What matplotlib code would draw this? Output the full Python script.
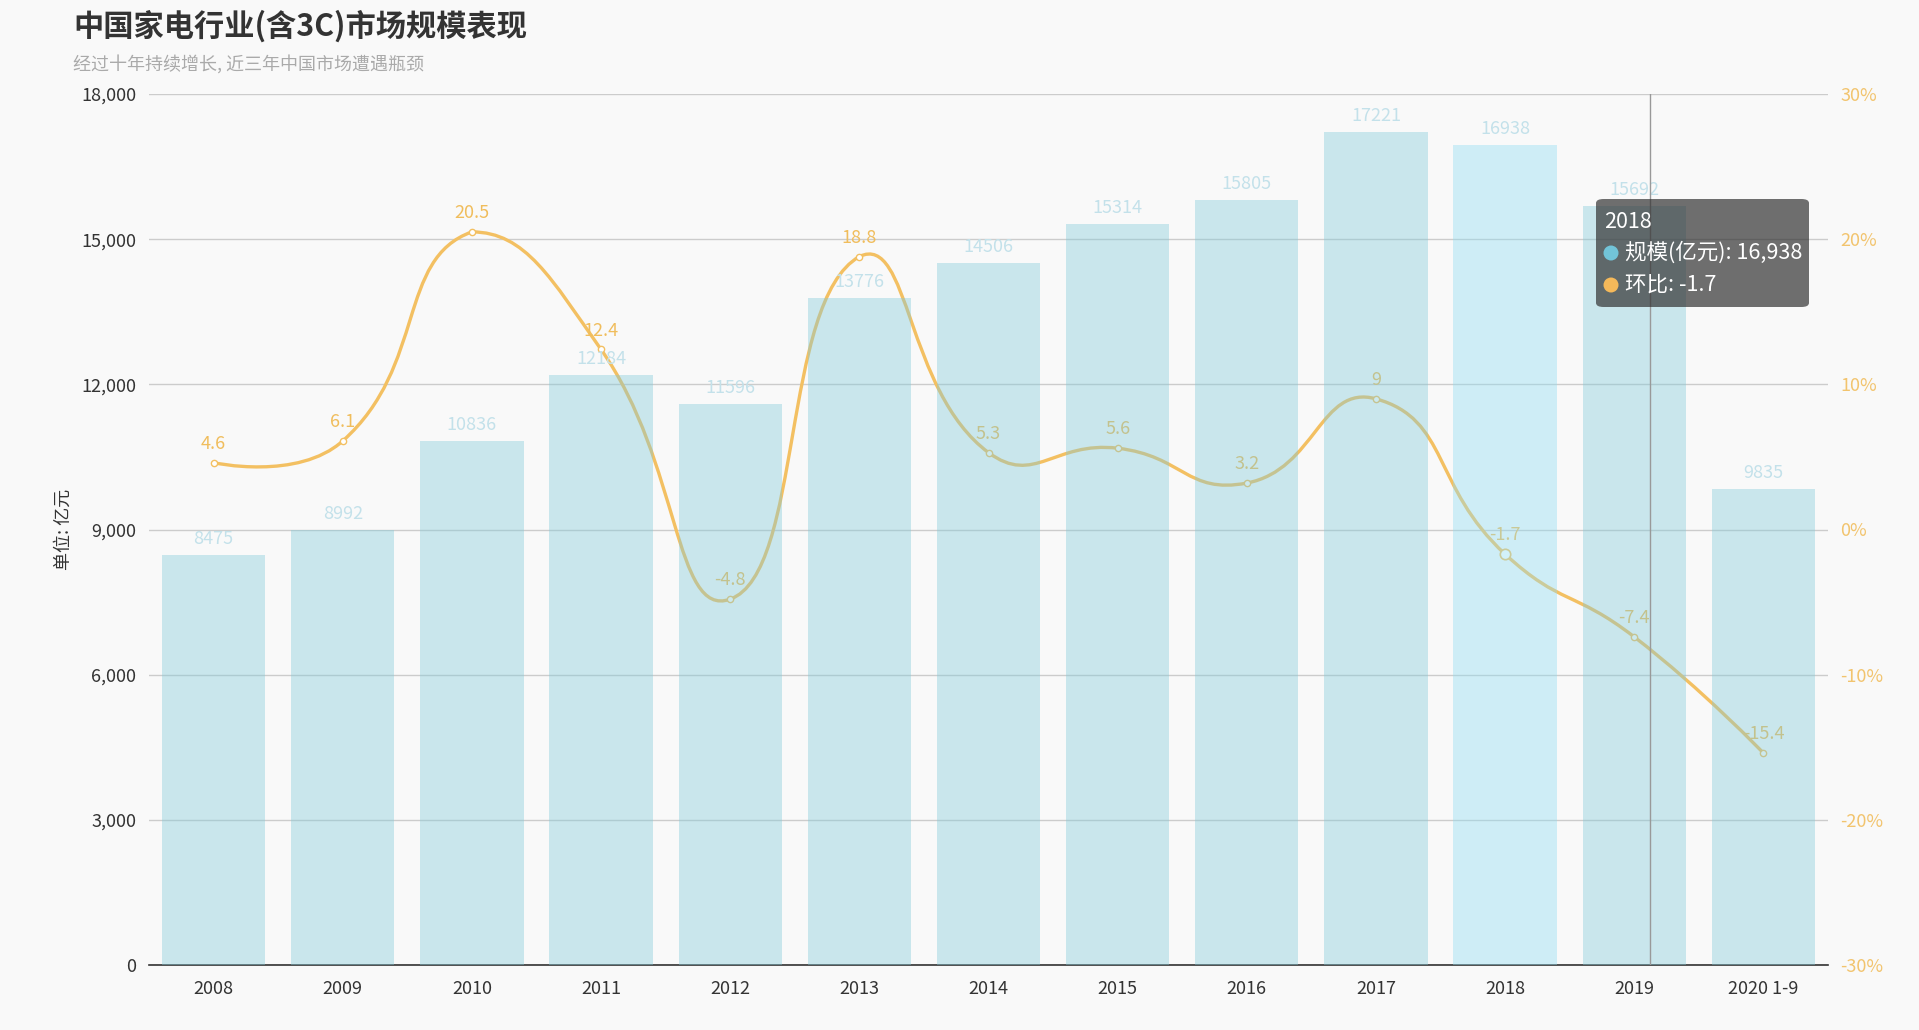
import numpy as np
import matplotlib
matplotlib.use('Agg')
import matplotlib.pyplot as plt
from matplotlib.path import Path
from matplotlib.patches import PathPatch, FancyBboxPatch, Ellipse
from matplotlib.ticker import FixedLocator, FuncFormatter

plt.rcParams['font.family'] = ['Noto Sans CJK SC', 'DejaVu Sans']

# 数据
years = ['2008', '2009', '2010', '2011', '2012', '2013', '2014',
         '2015', '2016', '2017', '2018', '2019', '2020 1-9']
scale = [8475, 8992, 10836, 12184, 11596, 13776, 14506,
         15314, 15805, 17221, 16938, 15692, 9835]
growth = [4.6, 6.1, 20.5, 12.4, -4.8, 18.8, 5.3,
          5.6, 3.2, 9, -1.7, -7.4, -15.4]
left_ticks = [0, 3000, 6000, 9000, 12000, 15000, 18000]
right_ticks = [-30, -20, -10, 0, 10, 20, 30]
hover = '2018'

W, H = 1919, 1030
BG = '#f9f9f9'
ORANGE = '#f3c062'


def fx(x, y):
    return x / W, 1 - y / H


fig = plt.figure(figsize=(W / 100, H / 100), dpi=100, facecolor=BG)
L, R, T, B = 149, 1828, 94, 965
rect = [L / W, 1 - B / H, (R - L) / W, (B - T) / H]

ax2 = fig.add_axes(rect)          # 折线(在下层)
ax = ax2.twinx()                  # 柱子(在上层)
ax.set_zorder(ax2.get_zorder() + 1)
ax.patch.set_visible(False)
ax2.set_facecolor(BG)

x = np.arange(len(years))
ax.set_xlim(-0.5, len(years) - 0.5)
ax2.set_xlim(-0.5, len(years) - 0.5)
ax.set_ylim(0, 18000)
ax2.set_ylim(-30, 30)

# 柱状图
hi = years.index(hover)
colors = ['#81cad9'] * len(years)
colors[hi] = '#8fdcf2'
bars = ax.bar(x, scale, width=0.8, color=colors, alpha=0.4, zorder=2)
for xi, v in zip(x, scale):
    ax.annotate(str(v), (xi, v), xytext=(0, 5), textcoords='offset points',
                ha='center', va='bottom', fontsize=13, color='#c3e1ea', zorder=3)

# 平滑折线 (echarts 风格贝塞尔曲线, 在像素尺度下计算控制点)
sx = (R - L) / len(years)
sy = (B - T) / 60.0
P = np.column_stack([x * sx, np.array(growth) * sy])
lo, hi_b = P.min(axis=0), P.max(axis=0)
smooth = 0.5
verts = [P[0]]
codes = [Path.MOVETO]
cp0 = P[0].copy()
for i in range(1, len(P)):
    p = P[i]
    if i == len(P) - 1:
        cp1 = p.copy()
        v = None
    else:
        v = P[i + 1] - P[i - 1]
        d_prev = np.linalg.norm(p - P[i - 1])
        d_next = np.linalg.norm(p - P[i + 1])
        r = d_next / (d_next + d_prev)
        cp1 = p - v * smooth * (1 - r)
    cp0 = np.clip(cp0, lo, hi_b)
    cp1 = np.clip(cp1, lo, hi_b)
    verts += [cp0, cp1, p]
    codes += [Path.CURVE4] * 3
    if v is not None:
        cp0 = p + v * smooth * r
verts = np.array(verts) / np.array([sx, sy])
ax2.add_patch(PathPatch(Path(verts, codes), facecolor='none', edgecolor=ORANGE,
                        lw=2.4, zorder=3, capstyle='round', joinstyle='round'))
ax2.plot(x, growth, 'o', ms=4.5, mfc='white', mec=ORANGE, mew=1, zorder=4)
ax2.plot(x[hi], growth[hi], 'o', ms=7.5, mfc='white', mec=ORANGE, mew=1.2, zorder=4)
for xi, g in zip(x, growth):
    ax2.annotate(f'{g:g}', (xi, g), xytext=(0, 7), textcoords='offset points',
                 ha='center', va='bottom', fontsize=13, color='#f0bd5c', zorder=5)

# 网格与坐标轴
ax2.set_yticks(right_ticks)
ax2.yaxis.set_ticks_position('right')
ax2.yaxis.set_label_position('right')
ax2.yaxis.set_major_formatter(FuncFormatter(lambda v, p: f'{v:g}%'))
ax2.grid(axis='y', color='#cccccc', lw=1)
ax2.tick_params(axis='y', length=0, pad=9, labelsize=13, labelcolor='#f2c46e')

ax.yaxis.set_ticks_position('left')
ax.set_yticks(left_ticks)
ax.yaxis.set_major_formatter(FuncFormatter(lambda v, p: f'{int(v):,}'))
ax.tick_params(axis='y', length=0, pad=9, labelsize=13, labelcolor='#333333')

for a in (ax, ax2):
    for s in ('left', 'right', 'top'):
        a.spines[s].set_visible(False)
ax.spines['bottom'].set_visible(False)
ax2.spines['bottom'].set_color('#333333')
ax2.spines['bottom'].set_linewidth(1.2)

ax2.xaxis.set_major_locator(FixedLocator(np.arange(-0.5, len(years), 1.0)))
ax2.xaxis.set_minor_locator(FixedLocator(x))
ax2.set_xticklabels([])
ax2.set_xticklabels(years, minor=True)
ax2.tick_params(axis='x', which='major', length=5, width=1.2, color='#333333')
ax2.tick_params(axis='x', which='minor', length=0, pad=11, labelsize=13,
                labelcolor='#333333')
ax.set_xticks([])

# 悬停十字线 (鼠标所在位置)
mouse_x = 1650
ax.axvline((mouse_x - L) / sx - 0.5, color='#999999', lw=1, zorder=6)

# 标题
fig.text(*fx(73, 26), '中国家电行业(含3C)市场规模表现', fontsize=21.8, fontweight='bold',
         color='#333333', va='center', ha='left')
fig.text(*fx(73, 64), '经过十年持续增长, 近三年中国市场遭遇瓶颈', fontsize=13,
         color='#aaaaaa', va='center', ha='left')
fig.text(*fx(64, 529), '单位: 亿元', fontsize=13, color='#333333', rotation=90,
         va='center', ha='center')

# 提示框
bx0, by0, bx1, by1 = 1596, 199, 1809, 307
fig.add_artist(FancyBboxPatch(fx(bx0, by1), (bx1 - bx0) / W, (by1 - by0) / H,
                              boxstyle='round,pad=0,rounding_size=0.004',
                              transform=fig.transFigure, facecolor=(0.2, 0.2, 0.2, 0.7),
                              edgecolor='none', zorder=10))
fig.text(*fx(1604, 222), hover, fontsize=15.5, color='white', va='center', zorder=11)
rows = [('#72c4d8', f'规模(亿元): {scale[hi]:,}'), ('#f5b95a', f'环比: {growth[hi]:g}')]
for k, (c, t) in enumerate(rows):
    yy = 253 + k * 32
    fig.add_artist(Ellipse(fx(1611, yy), 15 / W, 15 / H, transform=fig.transFigure,
                           facecolor=c, edgecolor='none', zorder=11))
    fig.text(*fx(1625, yy), t, fontsize=15.5, color='white', va='center', zorder=11)

fig.savefig('out.png', dpi=100, facecolor=BG)
